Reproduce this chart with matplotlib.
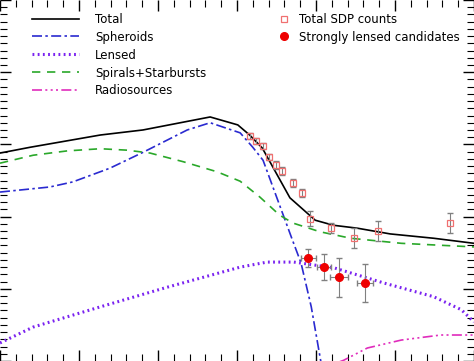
import numpy as np
import matplotlib
matplotlib.use("Agg")
import matplotlib.pyplot as plt
from matplotlib.ticker import MultipleLocator

# model curves (arbitrary units)
total_x = [0, 0.38, 1.27, 1.81, 2.66, 3.01, 3.16, 3.32, 3.67, 3.99, 4.22, 4.52, 4.94, 5.49, 6.0]
total_y = [2.88, 2.96, 3.13, 3.20, 3.38, 3.27, 3.13, 2.95, 2.26, 1.95, 1.88, 1.84, 1.76, 1.70, 1.63]

sph_x = [0, 0.63, 0.92, 1.39, 1.81, 2.37, 2.66, 3.04, 3.20, 3.33, 3.70, 3.81, 3.94, 4.06, 4.18]
sph_y = [2.34, 2.41, 2.48, 2.67, 2.89, 3.20, 3.30, 3.16, 2.96, 2.78, 1.68, 1.36, 0.75, 0.0, -0.54]

lens_x = [0, 0.42, 1.27, 2.11, 3.04, 3.38, 3.72, 4.23, 4.86, 5.49, 5.84, 6.0]
lens_y = [0.25, 0.47, 0.75, 1.02, 1.30, 1.37, 1.37, 1.29, 1.08, 0.89, 0.71, 0.54]

spir_x = [0, 0.42, 0.85, 1.27, 1.61, 1.90, 2.32, 2.75, 3.04, 3.29, 3.54, 3.71, 4.05, 4.44, 5.08, 6.0]
spir_y = [2.74, 2.85, 2.91, 2.94, 2.92, 2.88, 2.76, 2.62, 2.49, 2.27, 2.02, 1.91, 1.79, 1.70, 1.63, 1.58]

radio_x = [4.18, 4.35, 4.65, 5.08, 5.58, 6.0]
radio_y = [-0.06, 0.01, 0.18, 0.29, 0.36, 0.36]

# Total SDP counts
sdp_x = [3.165, 3.241, 3.329, 3.405, 3.494, 3.570, 3.709, 3.823, 3.924, 4.190, 4.481, 4.785, 5.696]
sdp_y = [3.116, 3.047, 2.978, 2.825, 2.715, 2.632, 2.465, 2.327, 1.967, 1.842, 1.704, 1.801, 1.911]
sdp_err = [0.04, 0.04, 0.04, 0.04, 0.05, 0.05, 0.05, 0.06, 0.104, 0.076, 0.145, 0.139, 0.139]

# strongly lensed candidates
cand_x = [3.899, 4.101, 4.291, 4.620]
cand_y = [1.427, 1.302, 1.163, 1.080]
cand_xerr = [0.095, 0.089, 0.108, 0.101]
cand_yerr = [0.125, 0.18, 0.27, 0.263]

fig = plt.figure(figsize=(4.74, 3.61), dpi=100)
ax = fig.add_axes([0, 0, 1, 1])

l1, = ax.plot(total_x, total_y, color="black", lw=1.2, label="Total")
l2, = ax.plot(sph_x, sph_y, color="#2a2ad0", lw=1.2, dashes=[6, 2, 1.5, 2], label="Spheroids")
l3, = ax.plot(lens_x, lens_y, color="#7a22f0", lw=2.2, linestyle=(0, (0.6, 1.1)), label="Lensed")
l4, = ax.plot(spir_x, spir_y, color="#2aa82a", lw=1.2, dashes=[5, 4], label="Spirals+Starbursts")
l5, = ax.plot(radio_x, radio_y, color="#e02cbc", lw=1.2, dashes=[6, 2, 1.2, 2, 1.2, 2, 1.2, 2], label="Radiosources")

ax.errorbar(sdp_x, sdp_y, yerr=sdp_err, fmt="none", ecolor="#808080", elinewidth=0.8, capsize=2.5)
m1, = ax.plot(sdp_x, sdp_y, "s", ms=5, mfc="none", mec="#f07070", mew=0.9, linestyle="none", label="Total SDP counts")
ax.errorbar(cand_x, cand_y, xerr=cand_xerr, yerr=cand_yerr, fmt="none", ecolor="#808080", elinewidth=0.8, capsize=2.5)
m2, = ax.plot(cand_x, cand_y, "o", ms=5.5, color="#ee0000", linestyle="none", label="Strongly lensed candidates")

ax.set_xlim(0, 6)
ax.set_ylim(0, 5)
ax.xaxis.set_major_locator(MultipleLocator(1))
ax.xaxis.set_minor_locator(MultipleLocator(0.2))
ax.yaxis.set_major_locator(MultipleLocator(1))
ax.yaxis.set_minor_locator(MultipleLocator(0.1))
ax.tick_params(which="both", direction="in", top=True, right=True,
               labelbottom=False, labelleft=False, color="black")
ax.tick_params(which="major", length=8, width=1)
ax.tick_params(which="minor", length=5, width=0.8)
for s in ax.spines.values():
    s.set_visible(False)

leg1 = ax.legend(handles=[l1, l2, l3, l4, l5], loc="upper left", bbox_to_anchor=(0.0675, 0.965),
                 frameon=False, fontsize=8.5, handlelength=4.0, handletextpad=1.35,
                 labelspacing=0.42, borderpad=0, borderaxespad=0)
ax.add_artist(leg1)
ax.legend(handles=[m1, m2], loc="upper left", bbox_to_anchor=(0.586, 0.965),
          frameon=False, fontsize=8.5, handlelength=1.0, handletextpad=0.8,
          labelspacing=0.42, borderpad=0, borderaxespad=0, numpoints=1)

fig.savefig("out.png", dpi=100)
